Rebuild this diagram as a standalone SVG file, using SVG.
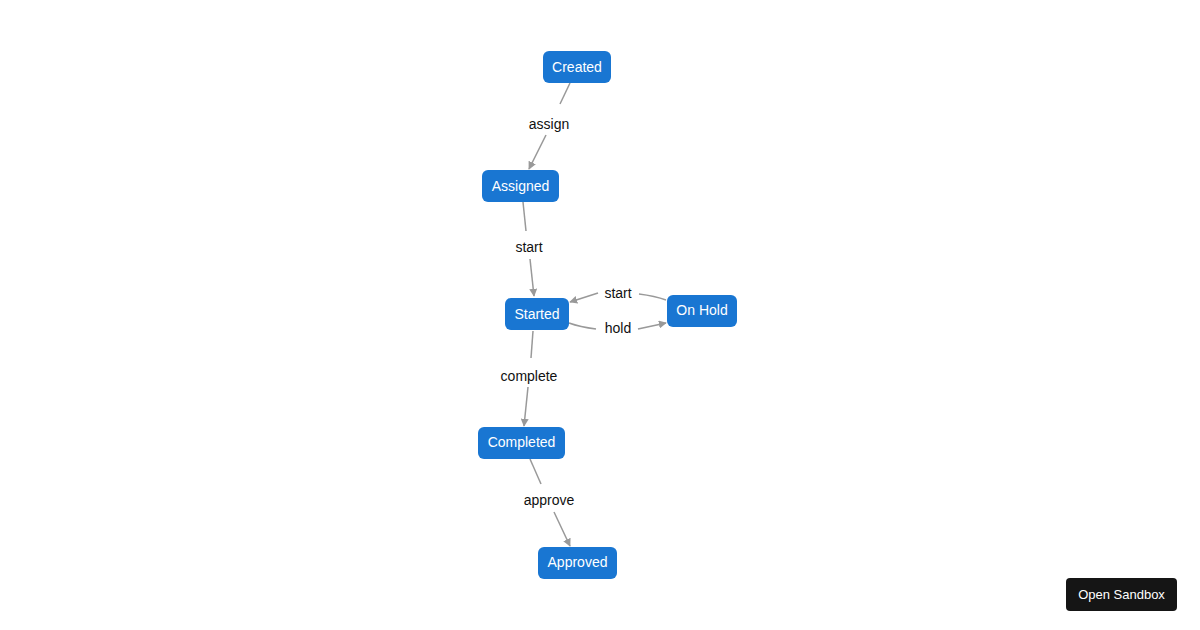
<svg xmlns="http://www.w3.org/2000/svg" width="1200" height="630" viewBox="0 0 1200 630">
<style>
.n rect{fill:#1976d2;}
.n text{fill:#fff;font-family:"Liberation Sans",Arial,sans-serif;font-size:14px;text-anchor:middle;}
.e path{fill:none;stroke:#999;stroke-width:1.5;}
.l{font-family:"Liberation Sans",Arial,sans-serif;font-size:14px;text-anchor:middle;fill:#111;}
</style>
<defs><marker id="a" viewBox="0 0 10 10" refX="9" refY="5" markerWidth="8" markerHeight="8" orient="auto" markerUnits="userSpaceOnUse"><path d="M0,0L10,5L0,10z" fill="#999"/></marker></defs>
<rect width="1200" height="630" fill="#fff"/>
<g id="edges" class="e">
<path d="M570,83L560,104" /><path d="M546,135L529,169" marker-end="url(#a)"/>
<path d="M523,202L526,231" /><path d="M530,259L534,296" marker-end="url(#a)"/>
<path d="M666,300Q655,296 639,294" /><path d="M598,293L570,302" marker-end="url(#a)"/>
<path d="M569,323Q580,327 596,329" /><path d="M638,329L666,323" marker-end="url(#a)"/>
<path d="M533,331L531,358" /><path d="M528,387L524,426" marker-end="url(#a)"/>
<path d="M530,459L541,484" /><path d="M554,512L570,546" marker-end="url(#a)"/>
</g>
<g class="l">
<text x="549" y="129">assign</text><text x="529" y="252">start</text>
<text x="618" y="298">start</text><text x="618" y="333">hold</text>
<text x="529" y="381">complete</text><text x="549" y="505">approve</text>
</g>
<g id="created" class="n"><rect x="543" y="51" width="68" height="32" rx="6"/><text x="577" y="72">Created</text></g>
<g id="assigned" class="n"><rect x="482" y="170" width="77" height="32" rx="6"/><text x="520.5" y="191">Assigned</text></g>
<g id="started" class="n"><rect x="505" y="298" width="64" height="32" rx="6"/><text x="537" y="319">Started</text></g>
<g id="onhold" class="n"><rect x="667" y="295" width="70" height="32" rx="6"/><text x="702" y="315">On Hold</text></g>
<g id="completed" class="n"><rect x="478" y="427" width="87" height="32" rx="6"/><text x="521.5" y="447">Completed</text></g>
<g id="approved" class="n"><rect x="538" y="547" width="79" height="32" rx="6"/><text x="577.5" y="567">Approved</text></g>
<g id="sandbox"><rect x="1066" y="578" width="111" height="33" rx="4" fill="#151515"/><text x="1121.5" y="599" fill="#fff" font-family="Liberation Sans,Arial,sans-serif" font-size="13" text-anchor="middle">Open Sandbox</text></g>
</svg>
